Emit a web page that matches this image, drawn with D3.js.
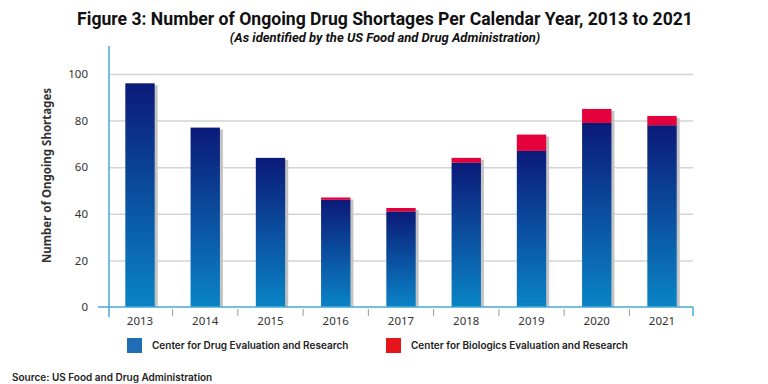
<!DOCTYPE html>
<html lang="en">
<head>
<meta charset="UTF-8">
<title>Ongoing Drug Shortages</title>
<script src="https://d3js.org/d3.v7.min.js"></script>
<style>
  body { margin: 0; background: #fff; }
  .tick text { font-family: "Noto Sans", sans-serif; font-size: 11.5px; fill: #333; }
  .title { font-family: Roboto, sans-serif; font-weight: 700; font-size: 17.6px; fill: #111; }
  .sub { font-family: Roboto, sans-serif; font-weight: 700; font-style: italic; font-size: 13px; fill: #111; }
  .legend, .source { font-family: Inter, sans-serif; font-weight: 600; font-size: 10px; fill: #222; }
</style>
</head>
<body>
<svg width="768" height="384"></svg>
<script>
// data
const years = ["2013", "2014", "2015", "2016", "2017", "2018", "2019", "2020", "2021"];
const cder = [96, 77, 64, 46, 41, 62, 67, 79, 78];
const cber = [0, 0, 0, 1, 1.5, 2, 7, 6, 4];
const yTicks = [0, 20, 40, 60, 80, 100];
const seriesNames = ["Center for Drug Evaluation and Research", "Center for Biologics Evaluation and Research"];

const svg = d3.select("svg");
const plotLeft = 109, plotRight = 693, plotBottom = 307, plotTop = 74;

const x = d3.scaleBand().domain(years).range([plotLeft, plotRight]).paddingInner(0.55).paddingOuter(0.25);
const y = d3.scaleLinear().domain([0, 100]).range([plotBottom, plotTop]);

// gradient for the blue bars
const defs = svg.append("defs");
const grad = defs.append("linearGradient").attr("id", "blueGrad")
    .attr("x1", 0).attr("y1", 0).attr("x2", 0).attr("y2", 1);
grad.append("stop").attr("offset", "0%").attr("stop-color", "#0b1a78");
grad.append("stop").attr("offset", "100%").attr("stop-color", "#0a84c6");

// titles
svg.append("text").attr("class", "title").attr("x", 385).attr("y", 25)
    .attr("text-anchor", "middle")
    .text("Figure 3: Number of Ongoing Drug Shortages Per Calendar Year, 2013 to 2021");
svg.append("text").attr("class", "sub").attr("x", 385).attr("y", 42)
    .attr("text-anchor", "middle")
    .text("(As identified by the US Food and Drug Administration)");

// y gridlines + labels
const yAxis = svg.append("g").attr("transform", `translate(${plotLeft},0)`)
    .call(d3.axisLeft(y).tickValues(yTicks).tickSize(-(plotRight - plotLeft)).tickPadding(21));
yAxis.select(".domain").remove();
yAxis.selectAll(".tick line").attr("stroke", "#d4d4d4").attr("stroke-width", 1.5)
    .filter(d => d === 0).remove();

// y axis title
svg.append("text")
    .attr("transform", `translate(51,${(plotBottom + plotTop) / 2 - 15}) rotate(-90)`)
    .attr("text-anchor", "middle")
    .style("font-family", "'Noto Sans', sans-serif").style("font-weight", 700)
    .style("font-size", "11.5px").style("fill", "#333")
    .text("Number of Ongoing Shortages");

// bars
const rows = years.map((yr, i) => ({ year: yr, a: cder[i], b: cber[i] }));
const g = svg.append("g");
const bw = x.bandwidth();

g.selectAll(".shadow").data(rows).enter().append("rect")
    .attr("x", d => x(d.year) + 3)
    .attr("y", d => y(d.a + d.b) + 2)
    .attr("width", bw)
    .attr("height", d => plotBottom - y(d.a + d.b) - 2)
    .attr("fill", "#c4c4c4");

g.selectAll(".cder").data(rows).enter().append("rect")
    .attr("x", d => x(d.year))
    .attr("y", d => y(d.a))
    .attr("width", bw)
    .attr("height", d => plotBottom - y(d.a))
    .attr("fill", "url(#blueGrad)");

g.selectAll(".cber").data(rows.filter(d => d.b > 0)).enter().append("rect")
    .attr("x", d => x(d.year))
    .attr("y", d => y(d.a + d.b))
    .attr("width", bw)
    .attr("height", d => y(d.a) - y(d.a + d.b))
    .attr("fill", "#e4003b");

// axes lines
const axisColor = "#49a8d6";
svg.append("line").attr("x1", plotLeft).attr("x2", plotLeft).attr("y1", 46).attr("y2", 317)
    .attr("stroke", axisColor).attr("stroke-width", 1.5);
svg.append("line").attr("x1", 98).attr("x2", plotRight).attr("y1", plotBottom).attr("y2", plotBottom)
    .attr("stroke", axisColor).attr("stroke-width", 1.5);
svg.append("line").attr("x1", plotRight).attr("x2", plotRight).attr("y1", plotBottom).attr("y2", 316)
    .attr("stroke", axisColor).attr("stroke-width", 1.5);

// category separators
const step = x.step();
const seps = years.slice(1).map(yr => x(yr) - step * x.paddingInner() / 2);
svg.selectAll(".sep").data(seps).enter().append("line")
    .attr("x1", d => d).attr("x2", d => d)
    .attr("y1", plotBottom + 2).attr("y2", plotBottom + 9)
    .attr("stroke", "#999").attr("stroke-width", 1);

// x labels
const xAxis = svg.append("g").attr("transform", `translate(0,${plotBottom})`)
    .call(d3.axisBottom(x).tickSize(0).tickPadding(10));
xAxis.select(".domain").remove();

// legend
const colors = ["#1f6db5", "#e8141b"];
const legX = [127, 386];
const leg = svg.selectAll(".leg").data(seriesNames).enter().append("g")
    .attr("transform", (d, i) => `translate(${legX[i]},338)`);
leg.append("rect").attr("width", 15).attr("height", 15).attr("fill", (d, i) => colors[i]);
leg.append("text").attr("class", "legend").attr("x", 25).attr("y", 11).text(d => d);

// source
svg.append("text").attr("class", "source").attr("x", 12).attr("y", 381)
    .text("Source: US Food and Drug Administration");
</script>
</body>
</html>
